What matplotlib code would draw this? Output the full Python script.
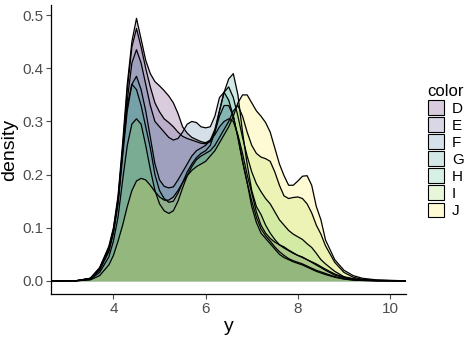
import matplotlib
matplotlib.use("Agg")
import matplotlib.pyplot as plt
from matplotlib.patches import Patch
import numpy as np

plt.rcParams['font.family'] = ['Liberation Sans', 'DejaVu Sans']

# y grid (mm) and density, one list per diamond colour
x = [2.6, 3.2, 3.5, 3.7, 3.9,
     4.0, 4.1, 4.2, 4.3, 4.4, 4.5, 4.6, 4.7, 4.8, 4.9,
     5.0, 5.1, 5.2, 5.3, 5.4, 5.5, 5.6, 5.7, 5.8, 5.9,
     6.0, 6.1, 6.2, 6.3, 6.4, 6.5, 6.6, 6.7, 6.8, 6.9,
     7.0, 7.1, 7.2, 7.3, 7.4, 7.5, 7.6, 7.7, 7.8, 7.9,
     8.0, 8.1, 8.2, 8.3, 8.4, 8.5, 8.6,
     8.8, 9.0, 9.2, 9.4, 9.7, 10.4]

d_D = [0, 0.0005, 0.005, 0.025, 0.065,
       0.10, 0.16, 0.26, 0.37, 0.45, 0.494, 0.455, 0.415, 0.39, 0.375,
       0.367, 0.358, 0.348, 0.335, 0.315, 0.29, 0.278, 0.27, 0.266, 0.262,
       0.26, 0.265, 0.275, 0.29, 0.30, 0.305, 0.30, 0.275, 0.24, 0.20,
       0.165, 0.13, 0.105, 0.09, 0.08, 0.073, 0.068, 0.062, 0.057, 0.052,
       0.048, 0.044, 0.04, 0.036, 0.032, 0.027, 0.022,
       0.013, 0.007, 0.004, 0.002, 0.0007, 0]
d_E = [0, 0.0005, 0.005, 0.024, 0.062,
       0.097, 0.155, 0.25, 0.36, 0.44, 0.475, 0.44, 0.40, 0.365, 0.335,
       0.318, 0.305, 0.298, 0.29, 0.28, 0.272, 0.268, 0.265, 0.262, 0.259,
       0.258, 0.262, 0.28, 0.31, 0.33, 0.33, 0.31, 0.27, 0.225, 0.185,
       0.14, 0.11, 0.09, 0.08, 0.07, 0.06, 0.05, 0.044, 0.04, 0.036,
       0.033, 0.03, 0.026, 0.022, 0.018, 0.015, 0.012,
       0.007, 0.0035, 0.0015, 0.0008, 0.0002, 0]
d_F = [0, 0.0005, 0.005, 0.023, 0.06,
       0.095, 0.15, 0.245, 0.34, 0.41, 0.435, 0.41, 0.37, 0.33, 0.30,
       0.29, 0.28, 0.27, 0.265, 0.268, 0.28, 0.295, 0.30, 0.298, 0.29,
       0.288, 0.29, 0.31, 0.345, 0.355, 0.34, 0.31, 0.27, 0.225, 0.185,
       0.15, 0.12, 0.098, 0.085, 0.075, 0.064, 0.055, 0.048, 0.042, 0.038,
       0.035, 0.032, 0.028, 0.024, 0.02, 0.017, 0.014,
       0.008, 0.004, 0.002, 0.001, 0.0003, 0]
d_G = [0, 0.0004, 0.004, 0.02, 0.055,
       0.09, 0.145, 0.235, 0.32, 0.37, 0.385, 0.36, 0.32, 0.27, 0.22,
       0.19, 0.178, 0.175, 0.177, 0.19, 0.205, 0.22, 0.235, 0.245, 0.25,
       0.255, 0.265, 0.285, 0.32, 0.355, 0.38, 0.39, 0.35, 0.28, 0.22,
       0.17, 0.14, 0.125, 0.105, 0.09, 0.078, 0.068, 0.064, 0.058, 0.053,
       0.048, 0.045, 0.04, 0.035, 0.03, 0.025, 0.02,
       0.011, 0.006, 0.003, 0.0015, 0.0005, 0]
d_H = [0, 0.0004, 0.004, 0.021, 0.058,
       0.093, 0.15, 0.245, 0.33, 0.37, 0.36, 0.33, 0.29, 0.25, 0.20,
       0.17, 0.155, 0.148, 0.15, 0.165, 0.185, 0.205, 0.22, 0.232, 0.24,
       0.245, 0.255, 0.28, 0.32, 0.355, 0.365, 0.345, 0.31, 0.27, 0.235,
       0.205, 0.183, 0.168, 0.155, 0.145, 0.13, 0.115, 0.105, 0.095, 0.088,
       0.083, 0.078, 0.07, 0.063, 0.052, 0.04, 0.032,
       0.018, 0.008, 0.004, 0.002, 0.001, 0]
d_I = [0, 0.0003, 0.003, 0.016, 0.045,
       0.075, 0.12, 0.19, 0.255, 0.295, 0.305, 0.295, 0.255, 0.21, 0.17,
       0.145, 0.132, 0.127, 0.132, 0.15, 0.175, 0.198, 0.215, 0.228, 0.235,
       0.24, 0.245, 0.255, 0.27, 0.285, 0.30, 0.32, 0.33, 0.31, 0.28,
       0.255, 0.24, 0.233, 0.23, 0.225, 0.205, 0.18, 0.16, 0.155, 0.157,
       0.158, 0.155, 0.145, 0.128, 0.105, 0.088, 0.066,
       0.035, 0.016, 0.007, 0.003, 0.001, 0]
d_J = [0, 0.0002, 0.002, 0.01, 0.03,
       0.048, 0.075, 0.105, 0.14, 0.17, 0.188, 0.193, 0.19, 0.18, 0.168,
       0.158, 0.152, 0.152, 0.158, 0.17, 0.185, 0.198, 0.208, 0.215, 0.22,
       0.225, 0.235, 0.245, 0.26, 0.275, 0.29, 0.31, 0.335, 0.35, 0.35,
       0.335, 0.32, 0.31, 0.298, 0.28, 0.25, 0.22, 0.198, 0.18, 0.18,
       0.188, 0.197, 0.198, 0.18, 0.14, 0.115, 0.077,
       0.04, 0.02, 0.01, 0.005, 0.002, 0]

groups = ['D', 'E', 'F', 'G', 'H', 'I', 'J']
dens = [d_D, d_E, d_F, d_G, d_H, d_I, d_J]
cols = plt.cm.viridis(np.linspace(0, 1, len(groups)))

fig = plt.figure(figsize=(4.74, 3.38), dpi=100)
ax = fig.add_axes([0.108, 0.130, 0.749, 0.855])

for g, d, c in zip(groups, dens, cols):
    ax.fill_between(x, d, color=c, alpha=0.2, linewidth=0)
    ax.plot(x, d, color='black', lw=0.9)

ax.set_xlim(2.65, 10.35)
ax.set_ylim(-0.0247, 0.519)
ax.set_xticks([4, 6, 8, 10])
ax.set_yticks([0, 0.1, 0.2, 0.3, 0.4, 0.5])
ax.set_yticklabels(['0.0', '0.1', '0.2', '0.3', '0.4', '0.5'])
ax.tick_params(labelsize=11, colors='#4d4d4d', length=3.5, width=0.8, pad=2)
for s in ['top', 'right']:
    ax.spines[s].set_visible(False)
for s in ['left', 'bottom']:
    ax.spines[s].set_color('black')
    ax.spines[s].set_linewidth(0.9)
ax.set_xlabel('y', fontsize=14, labelpad=2)
ax.set_ylabel('density', fontsize=14, labelpad=3)

handles = [Patch(facecolor=(c[0], c[1], c[2], 0.2), edgecolor='black', lw=0.8)
           for c in cols]
leg = fig.legend(handles, groups, loc='upper left', bbox_to_anchor=(0.886, 0.775),
                 frameon=False, title='color', fontsize=11, title_fontsize=12,
                 handlelength=1.1, handleheight=1.1, labelspacing=0.1,
                 handletextpad=0.5, borderpad=0)
leg._legend_box.align = 'left'

fig.savefig('out.png', dpi=100)
